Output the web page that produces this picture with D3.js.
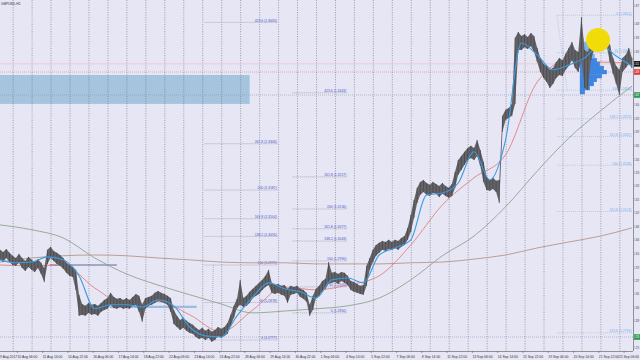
<!DOCTYPE html>
<html lang="en">
<head>
<meta charset="UTF-8" />
<script src="https://d3js.org/d3.v7.min.js"></script>
<title>GBPUSD,H1</title>
<style>
  body { margin: 0; background: #e6e6f4; }
  svg { display: block; font-family: "Liberation Sans", Arial, sans-serif; }
  .grid line { stroke: #6a6a84; stroke-width: 0.6; stroke-dasharray: 1, 1.4; }
  .axis-text { font-size: 3.4px; fill: #333; }
  .price-text { font-size: 1.6px; fill: #333; }
  .fib-line { stroke: #8a8aa6; stroke-width: 0.6; stroke-dasharray: 1, 1; }
  .fib-text { font-size: 3.4px; fill: #4b55c8; }
  .fib-right .fib-text { fill: #7fb0e6; }
  .fib-right .fib-line { stroke: #9fb8dc; }
</style>
</head>
<body>
<svg id="chart" width="640" height="360"></svg>
<script>
// price bars, one every 4 trading hours, from 9 Aug 2017
const barHours = 4;
const highs = [
  1.3020, 1.3014, 1.3022, 1.3012, 1.3004, 1.2998, 1.3009, 1.2998, 1.2990, 1.3001,
  1.2993, 1.2987, 1.2995, 1.2985, 1.2971, 1.3020, 1.3028, 1.3017, 1.3012, 1.3006,
  1.2998, 1.2985, 1.2979, 1.2974, 1.2966, 1.2899, 1.2874, 1.2869, 1.2877, 1.2872,
  1.2874, 1.2869, 1.2877, 1.2885, 1.2890, 1.2904, 1.2893, 1.2888, 1.2890, 1.2885,
  1.2890, 1.2885, 1.2893, 1.2901, 1.2896, 1.2872, 1.2890, 1.2893, 1.2896, 1.2904,
  1.2909, 1.2904, 1.2901, 1.2896, 1.2890, 1.2858, 1.2842, 1.2831, 1.2837, 1.2829,
  1.2823, 1.2818, 1.2810, 1.2804, 1.2810, 1.2802, 1.2807, 1.2799, 1.2804, 1.2812,
  1.2807, 1.2812, 1.2823, 1.2845, 1.2869, 1.2888, 1.2939, 1.2890, 1.2896, 1.2907,
  1.2915, 1.2923, 1.2931, 1.2939, 1.2950, 1.2966, 1.2931, 1.2925, 1.2928, 1.2923,
  1.2925, 1.2915, 1.2923, 1.2920, 1.2923, 1.2915, 1.2912, 1.2904, 1.2872, 1.2896,
  1.2915, 1.2923, 1.2936, 1.2942, 1.2987, 1.2958, 1.2960, 1.2955, 1.2960, 1.2958,
  1.2950, 1.2936, 1.2933, 1.2928, 1.2923, 1.2925, 1.2977, 1.2998, 1.3020, 1.3033,
  1.3039, 1.3044, 1.3041, 1.3047, 1.3041, 1.3047, 1.3044, 1.3052, 1.3057, 1.3079,
  1.3114, 1.3154, 1.3187, 1.3203, 1.3208, 1.3200, 1.3195, 1.3203, 1.3197, 1.3192,
  1.3200, 1.3192, 1.3187, 1.3197, 1.3230, 1.3262, 1.3273, 1.3284, 1.3294, 1.3300,
  1.3294, 1.3316, 1.3289, 1.3257, 1.3216, 1.3208, 1.3214, 1.3206, 1.3208, 1.3381,
  1.3397, 1.3402, 1.3413, 1.3591, 1.3607, 1.3596, 1.3601, 1.3593, 1.3604, 1.3596,
  1.3564, 1.3537, 1.3521, 1.3515, 1.3505, 1.3510, 1.3526, 1.3537, 1.3531, 1.3548,
  1.3564, 1.3580, 1.3558, 1.3553, 1.3647, 1.3558, 1.3553, 1.3580, 1.3591, 1.3585,
  1.3585, 1.3583, 1.3591, 1.3572, 1.3537, 1.3515, 1.3505, 1.3537, 1.3545, 1.3564,
  1.3537
];
const lows = [
  1.2993, 1.2987, 1.2998, 1.2987, 1.2979, 1.2977, 1.2985, 1.2971, 1.2963, 1.2974,
  1.2966, 1.2960, 1.2971, 1.2955, 1.2933, 1.2982, 1.2998, 1.2990, 1.2982, 1.2977,
  1.2969, 1.2958, 1.2950, 1.2947, 1.2912, 1.2842, 1.2845, 1.2842, 1.2850, 1.2845,
  1.2847, 1.2842, 1.2853, 1.2858, 1.2861, 1.2872, 1.2863, 1.2861, 1.2866, 1.2861,
  1.2863, 1.2861, 1.2869, 1.2872, 1.2853, 1.2826, 1.2861, 1.2869, 1.2872, 1.2877,
  1.2882, 1.2880, 1.2877, 1.2872, 1.2853, 1.2820, 1.2812, 1.2804, 1.2810, 1.2802,
  1.2796, 1.2794, 1.2785, 1.2780, 1.2783, 1.2777, 1.2783, 1.2772, 1.2777, 1.2788,
  1.2783, 1.2788, 1.2794, 1.2815, 1.2837, 1.2863, 1.2872, 1.2866, 1.2869, 1.2877,
  1.2890, 1.2896, 1.2901, 1.2912, 1.2920, 1.2925, 1.2904, 1.2901, 1.2904, 1.2899,
  1.2896, 1.2877, 1.2899, 1.2901, 1.2904, 1.2893, 1.2888, 1.2880, 1.2842, 1.2858,
  1.2890, 1.2896, 1.2909, 1.2915, 1.2928, 1.2931, 1.2933, 1.2928, 1.2936, 1.2931,
  1.2925, 1.2912, 1.2907, 1.2904, 1.2901, 1.2899, 1.2923, 1.2966, 1.2987, 1.3004,
  1.3012, 1.3020, 1.3017, 1.3022, 1.3020, 1.3025, 1.3020, 1.3028, 1.3033, 1.3047,
  1.3068, 1.3106, 1.3146, 1.3168, 1.3176, 1.3168, 1.3165, 1.3173, 1.3171, 1.3162,
  1.3171, 1.3165, 1.3160, 1.3165, 1.3187, 1.3222, 1.3235, 1.3249, 1.3262, 1.3267,
  1.3262, 1.3273, 1.3246, 1.3203, 1.3181, 1.3179, 1.3184, 1.3176, 1.3146, 1.3338,
  1.3370, 1.3375, 1.3381, 1.3413, 1.3558, 1.3558, 1.3566, 1.3561, 1.3569, 1.3553,
  1.3526, 1.3499, 1.3483, 1.3472, 1.3456, 1.3467, 1.3483, 1.3491, 1.3488, 1.3505,
  1.3515, 1.3531, 1.3510, 1.3499, 1.3531, 1.3456, 1.3451, 1.3531, 1.3558, 1.3558,
  1.3561, 1.3564, 1.3569, 1.3526, 1.3494, 1.3467, 1.3437, 1.3499, 1.3510, 1.3521,
  1.3510
];

// moving averages (fast one every 20 h, the others every 40 h)
const fastStep = 20;
const maFast = [
  1.2993, 1.2985, 1.2987, 1.3001, 1.2993, 1.2950, 1.2861, 1.2872, 1.2872, 1.2866,
  1.2885, 1.2869, 1.2812, 1.2788, 1.2785, 1.2842, 1.2893, 1.2931, 1.2915, 1.2907,
  1.2890, 1.2939, 1.2944, 1.2931, 1.3006, 1.3025, 1.3047, 1.3168, 1.3173, 1.3200,
  1.3284, 1.3208, 1.3316, 1.3577, 1.3545, 1.3505, 1.3518, 1.3537, 1.3572, 1.3542,
  1.3515
];
const slowStep = 40;
const maMid = [
  1.2979, 1.2977, 1.2979, 1.2917, 1.2872, 1.2880, 1.2845, 1.2799, 1.2858, 1.2920,
  1.2912, 1.2925, 1.2950, 1.3033, 1.3141, 1.3214, 1.3276, 1.3472, 1.3531, 1.3526,
  1.3523
];
const maSlow = [
  1.3087, 1.3074, 1.3052, 1.2998, 1.2955, 1.2925, 1.2899, 1.2874, 1.2850, 1.2855,
  1.2861, 1.2869, 1.2890, 1.2939, 1.3004, 1.3057, 1.3136, 1.3232, 1.3321, 1.3394,
  1.3461
];
const maLong = [
  1.2987, 1.2998, 1.3004, 1.3006, 1.3004, 1.2998, 1.2993, 1.2987, 1.2985, 1.2985,
  1.2982, 1.2982, 1.2982, 1.2985, 1.2987, 1.2995, 1.3006, 1.3025, 1.3041, 1.3057,
  1.3079
];

// time axis labels, one every 32 trading hours
const timeLabels = [
  "9 Aug 2017", "10 Aug 06:00", "11 Aug 14:00", "14 Aug 22:00", "16 Aug 06:00",
  "17 Aug 14:00", "18 Aug 22:00", "22 Aug 06:00", "23 Aug 14:00", "24 Aug 22:00",
  "28 Aug 06:00", "29 Aug 14:00", "30 Aug 22:00", "1 Sep 06:00", "4 Sep 14:00",
  "5 Sep 22:00", "7 Sep 06:00", "8 Sep 14:00", "11 Sep 22:00", "13 Sep 06:00",
  "14 Sep 14:00", "15 Sep 22:00", "19 Sep 06:00", "20 Sep 14:00", "21 Sep 22:00",
  "25 Sep 06:00"
];
const priceTicks = [
  1.3677, 1.3628, 1.3592, 1.3555, 1.3519, 1.3483, 1.3446, 1.3410, 1.3373, 1.3337,
  1.3301, 1.3264, 1.3228, 1.3192, 1.3155, 1.3119, 1.3082, 1.3046, 1.3010, 1.2973,
  1.2937, 1.2901, 1.2864, 1.2828, 1.2791, 1.2755
];

// fibonacci expansions
const fibLevels = [0, 50, 100, 138.2, 161.8, 200, 261.8, 423.6];
const fibs = [
  { p0: 1.2777, p100: 1.2979, h1: 259, h2: 351, a: [268, 270], right: false },
  { p0: 1.2850, p100: 1.2990, h1: 370, h2: 439, a: [376, 376], right: false },
  { p0: 1.3652, p100: 1.3450, h1: 705, h2: 800, a: [705, 718], right: true }
];

// horizontal levels
const zoneTop = 1.3491, zoneBottom = 1.3413, zoneEnd = 316;
const bidPrice = 1.3521, askLine = 1.3499, levelA = 1.3437, levelB = 1.2785;
const supportLines = [
  { p: 1.2979, h1: 63, h2: 148, color: "#3c4c8c", w: 0.8 },
  { p: 1.2866, h1: 139, h2: 249, color: "#9cbbe0", w: 2.2 }
];

// volume profile
const profileHour = 734;
const profilePrices = [1.3585, 1.3575, 1.3564, 1.3553, 1.3542, 1.3531, 1.3521,
  1.3510, 1.3499, 1.3488, 1.3478, 1.3467, 1.3456, 1.3445];
const profileVolumes = [40, 90, 120, 130, 150, 170, 200, 240, 270, 220, 170, 140, 100, 50];
const marker = { h: 757, p: 1.3585 };

const svg = d3.select("#chart");
const plotW = 633, plotH = 351;
const x = d3.scaleLinear().domain([0, 800]).range([0, 632]);
const y = d3.scaleLinear().domain([1.2777, 1.3693]).range([340, 0]);
const vol = d3.scaleLinear().domain([0, 300]).range([0, 30]);

svg.append("rect").attr("width", 640).attr("height", 360).attr("fill", "#e6e6f4");
svg.append("defs").append("clipPath").attr("id", "plot")
  .append("rect").attr("width", plotW).attr("height", plotH);
const plot = svg.append("g").attr("clip-path", "url(#plot)");

// zone rectangle
plot.append("rect")
  .attr("x", x(0)).attr("y", y(zoneTop))
  .attr("width", x(zoneEnd) - x(0)).attr("height", y(zoneBottom) - y(zoneTop))
  .attr("fill", "#a6c4de");

// daily grid
const days = d3.range(16, 800, 24);
plot.append("g").attr("class", "grid").selectAll("line").data(days).join("line")
  .attr("x1", d => x(d) + 0.5).attr("x2", d => x(d) + 0.5)
  .attr("y1", 0).attr("y2", plotH);

// full width price lines
plot.append("line").attr("x1", 0).attr("x2", plotW).attr("y1", y(bidPrice)).attr("y2", y(bidPrice))
  .attr("stroke", "#f2c6d2").attr("stroke-width", 0.8);
plot.append("line").attr("x1", 0).attr("x2", plotW).attr("y1", y(askLine)).attr("y2", y(askLine))
  .attr("stroke", "#e07a8a").attr("stroke-width", 0.6).attr("stroke-dasharray", "1,1");
[levelA, levelB].forEach(p => {
  plot.append("line").attr("x1", 0).attr("x2", plotW).attr("y1", y(p)).attr("y2", y(p))
    .attr("stroke", "#8c96b0").attr("stroke-width", 0.6).attr("stroke-dasharray", "1,1");
});

// fib expansions
fibs.forEach(f => {
  const g = plot.append("g").attr("class", f.right ? "fib-right" : "fib");
  g.append("line").attr("class", "fib-line")
    .attr("x1", x(f.a[0])).attr("y1", y(f.p0)).attr("x2", x(f.a[1])).attr("y2", y(f.p100));
  fibLevels.forEach(lv => {
    const p = f.p0 + (f.p100 - f.p0) * lv / 100;
    g.append("line").attr("class", "fib-line")
      .attr("x1", x(f.h1)).attr("x2", x(f.h2)).attr("y1", y(p)).attr("y2", y(p));
    g.append("text").attr("class", "fib-text")
      .attr("x", x(f.h2) - 0.5).attr("y", y(p) - 0.6).attr("text-anchor", "end")
      .text(`${lv} (${p.toFixed(4)})`);
  });
});

// support / resistance
supportLines.forEach(s => {
  plot.append("line").attr("x1", x(s.h1)).attr("x2", x(s.h2)).attr("y1", y(s.p)).attr("y2", y(s.p))
    .attr("stroke", s.color).attr("stroke-width", s.w);
});

// moving averages
const ma = (data, step, color, w) => {
  plot.append("path").datum(data)
    .attr("fill", "none").attr("stroke", color).attr("stroke-width", w)
    .attr("d", d3.line().x((d, i) => x(i * step)).y(d => y(d)).curve(d3.curveMonotoneX));
};
ma(maLong, slowStep, "#b3978a", 0.9);
ma(maSlow, slowStep, "#8fa58c", 0.9);
ma(maMid, slowStep, "#e27272", 0.8);

// volume profile
plot.append("g").selectAll("rect").data(profilePrices).join("rect")
  .attr("x", x(profileHour))
  .attr("y", d => y(d) - 2)
  .attr("width", (d, i) => vol(profileVolumes[i]))
  .attr("height", 4.2)
  .attr("fill", d => d > 1.3540 ? "#7fb3ef" : "#3f86e0");

// price bars
const bars = highs.map((h, i) => ({ h: i * barHours, hi: h, lo: lows[i] }));
plot.append("path").datum(bars)
  .attr("fill", "#636368")
  .attr("d", d3.area().x(d => x(d.h)).y0(d => y(d.lo)).y1(d => y(d.hi)));
plot.append("g").selectAll("line").data(bars).join("line")
  .attr("x1", d => x(d.h)).attr("x2", d => x(d.h))
  .attr("y1", d => y(d.hi)).attr("y2", d => y(d.lo))
  .attr("stroke", "#48484c").attr("stroke-width", 0.8);

ma(maFast, fastStep, "#3b9be0", 1.1);

// marker
plot.append("circle").attr("cx", x(marker.h)).attr("cy", y(marker.p)).attr("r", 12)
  .attr("fill", "#f1dc0a");

// axes
svg.append("line").attr("x1", plotW + 0.5).attr("x2", plotW + 0.5).attr("y1", 0).attr("y2", plotH)
  .attr("stroke", "#555").attr("stroke-width", 0.6);
svg.append("line").attr("x1", 0).attr("x2", plotW).attr("y1", plotH + 0.5).attr("y2", plotH + 0.5)
  .attr("stroke", "#555").attr("stroke-width", 0.6);

// price boxes on the axis
const boxes = [
  { p: bidPrice, fill: "#111" }, { p: askLine, fill: "#e03a3a" },
  { p: levelA, fill: "#2e9a50" }, { p: levelB, fill: "#2e9a50" }
];
const nearBox = p => boxes.some(b => Math.abs(y(b.p) - y(p)) < 6);

// narrow price scale: small labels stretched upright
svg.append("g").selectAll("text").data(priceTicks.filter(p => !nearBox(p))).join("text")
  .attr("class", "price-text")
  .attr("transform", d => `translate(${plotW + 1.3},${y(d) + 1.3}) scale(1,2)`)
  .text(d => d.toFixed(4));

boxes.forEach(b => {
  svg.append("rect").attr("x", plotW + 1).attr("y", y(b.p) - 2.8).attr("width", 7).attr("height", 5.6)
    .attr("fill", b.fill);
  svg.append("text").attr("class", "price-text")
    .attr("transform", `translate(${plotW + 1.3},${y(b.p) + 1.3}) scale(1,2)`)
    .style("fill", "#fff").text(b.p.toFixed(4));
});

const lastLabel = timeLabels.length - 1;
svg.append("g").selectAll("text").data(timeLabels).join("text")
  .attr("class", "axis-text")
  .attr("x", (d, i) => i === 0 ? 0 : i === lastLabel ? 639 : x(22 + 32 * (i - 1)))
  .attr("text-anchor", (d, i) => i === lastLabel ? "end" : "start")
  .attr("y", 357.5)
  .text(d => d);
svg.append("g").selectAll("line").data(timeLabels.slice(1)).join("line")
  .attr("x1", (d, i) => x(22 + 32 * i)).attr("x2", (d, i) => x(22 + 32 * i))
  .attr("y1", plotH).attr("y2", plotH + 2).attr("stroke", "#555").attr("stroke-width", 0.5);

svg.append("text").attr("class", "axis-text").attr("x", 1).attr("y", 5).text("GBPUSD,H1");
</script>
</body>
</html>
